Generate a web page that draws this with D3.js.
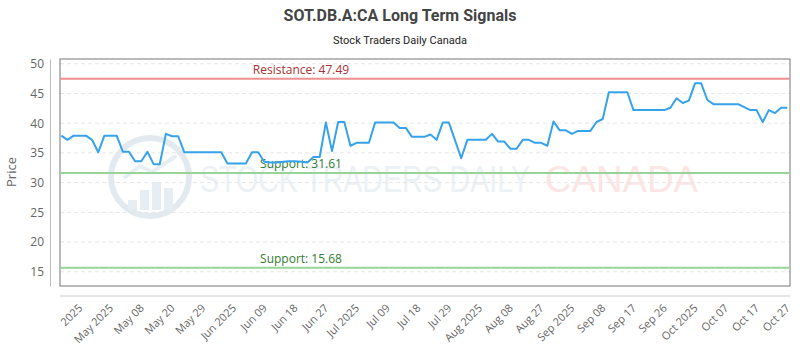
<!DOCTYPE html>
<html lang="en">
<head>
<meta charset="UTF-8">
<title>SOT.DB.A:CA Long Term Signals</title>
<script src="https://cdn.jsdelivr.net/npm/d3@7"></script>
<style>
    body { margin: 0; background: #fff; font-family: "Open Sans", sans-serif; }
    .grid line { stroke: #e6e6e6; stroke-dasharray: 4 3; }
    .axis text { fill: #666; }
</style>
</head>
<body>
<div id="chart"></div>
<script>
    // closing prices, one per trading day (Apr 2025 - Oct 2025)
    const prices = [
        37.9, 37.2, 37.9, 37.9, 37.9, 37.2, 35.1, 37.9, 37.9, 37.9,
        35.2, 35.2, 33.6, 33.6, 35.2, 33.1, 33.1, 38.2, 37.8, 37.8,
        35.1, 35.1, 35.1, 35.1, 35.1, 35.1, 35.1, 33.2, 33.2, 33.2,
        33.2, 35.1, 35.1, 33.5, 33.4, 33.4, 33.5, 33.6, 33.6, 33.5,
        33.4, 34.3, 34.3, 40.1, 35.3, 40.2, 40.2, 36.2, 36.7, 36.7,
        36.7, 40.1, 40.1, 40.1, 40.1, 39.2, 39.2, 37.7, 37.7, 37.7,
        38.1, 37.2, 40.1, 40.1, 37.1, 34.1, 37.2, 37.2, 37.2, 37.2,
        38.2, 36.9, 36.9, 35.7, 35.7, 37.2, 37.2, 36.7, 36.7, 36.2,
        40.3, 38.8, 38.8, 38.2, 38.7, 38.7, 38.7, 40.2, 40.7, 45.2,
        45.2, 45.2, 45.2, 42.2, 42.2, 42.2, 42.2, 42.2, 42.2, 42.6,
        44.2, 43.4, 43.8, 46.7, 46.7, 43.9, 43.2, 43.2, 43.2, 43.2,
        43.2, 42.7, 42.2, 42.2, 40.2, 42.2, 41.7, 42.6, 42.6
    ];

    // x-axis labels and the trading-day index they sit on
    const tickLabels = ["2025", "May 2025", "May 08", "May 20", "May 29", "Jun 2025",
        "Jun 09", "Jun 18", "Jun 27", "Jul 2025", "Jul 09", "Jul 18", "Jul 29",
        "Aug 2025", "Aug 08", "Aug 27", "Sep 2025", "Sep 08", "Sep 17", "Sep 26",
        "Oct 2025", "Oct 07", "Oct 17", "Oct 27"];
    const tickIndex = [3, 8, 13, 18, 23, 28, 33, 38, 43, 48, 53, 58, 63, 68, 73,
        78, 83, 88, 93, 98, 103, 108, 113, 118];

    const yTicks = [15, 20, 25, 30, 35, 40, 45, 50];

    const levelNames = ["Resistance", "Support", "Support"];
    const levelValues = [47.49, 31.61, 15.68];

    const width = 800, height = 350;
    const plot = { left: 60, right: 790, top: 59, bottom: 286 };

    const svg = d3.select("#chart").append("svg")
        .attr("width", width)
        .attr("height", height);

    const x = d3.scaleLinear()
        .domain([0, prices.length - 1])
        .range([61.3, 787.3]);

    const y = d3.scaleLinear()
        .domain([12.6, 50.8])
        .range([plot.bottom, plot.top]);

    // title
    svg.append("text")
        .attr("x", 400).attr("y", 21)
        .attr("text-anchor", "middle")
        .style("font-family", "Roboto, sans-serif")
        .style("font-weight", "bold")
        .style("font-size", "16px")
        .attr("fill", "#444")
        .text("SOT.DB.A:CA Long Term Signals");

    svg.append("text")
        .attr("x", 400).attr("y", 44)
        .attr("text-anchor", "middle")
        .style("font-family", "Roboto, sans-serif")
        .style("font-size", "11px")
        .attr("fill", "#222")
        .text("Stock Traders Daily Canada");

    // watermark
    const wm = svg.append("g");
    wm.append("circle")
        .attr("cx", 150).attr("cy", 177).attr("r", 39)
        .attr("fill", "none")
        .attr("stroke", "#e2eaf0")
        .attr("stroke-width", 6);
    [[128, 200, 10], [140, 190, 20], [152, 182, 28], [164, 188, 22]].forEach(b => {
        wm.append("rect")
            .attr("x", b[0]).attr("y", b[1])
            .attr("width", 9).attr("height", 210 - b[1])
            .attr("fill", "#e6eef3");
    });
    wm.append("polyline")
        .attr("points", "124,178 140,166 152,172 176,156")
        .attr("fill", "none")
        .attr("stroke", "#e6eef3")
        .attr("stroke-width", 4);
    wm.append("text")
        .attr("x", 200).attr("y", 192)
        .attr("textLength", 330)
        .attr("lengthAdjust", "spacingAndGlyphs")
        .style("font-family", "'Liberation Sans Narrow', sans-serif")
        .style("font-size", "37px")
        .attr("fill", "#ebf1f5")
        .text("STOCK TRADERS DAILY");
    wm.append("text")
        .attr("x", 545).attr("y", 192)
        .attr("textLength", 153)
        .attr("lengthAdjust", "spacingAndGlyphs")
        .style("font-family", "'Liberation Sans Narrow', sans-serif")
        .style("font-size", "37px")
        .attr("fill", "#fce5e5")
        .text("CANADA");

    // gridlines
    svg.append("g")
        .attr("class", "grid")
        .selectAll("line")
        .data(yTicks)
        .join("line")
        .attr("x1", plot.left).attr("x2", plot.right)
        .attr("y1", d => y(d)).attr("y2", d => y(d));

    // plot frame
    svg.append("rect")
        .attr("x", plot.left).attr("y", plot.top)
        .attr("width", plot.right - plot.left)
        .attr("height", plot.bottom - plot.top)
        .attr("fill", "none")
        .attr("stroke", "#777");

    // y axis
    const yAxis = svg.append("g")
        .attr("class", "axis")
        .attr("transform", "translate(50,0)")
        .call(d3.axisLeft(y).tickValues(yTicks).tickSize(0).tickPadding(6));
    yAxis.select(".domain").attr("stroke", "#bbb");
    yAxis.selectAll("text").style("font-size", "12px").style("font-family", "'Open Sans', sans-serif");

    svg.append("text")
        .attr("transform", "translate(16,172) rotate(-90)")
        .attr("text-anchor", "middle")
        .style("font-size", "13px")
        .attr("fill", "#666")
        .text("Price");

    // x axis
    const xAxis = svg.append("g")
        .attr("class", "axis")
        .attr("transform", "translate(0,296)")
        .call(d3.axisBottom(x)
            .tickValues(tickIndex)
            .tickFormat((d, i) => tickLabels[i])
            .tickSize(0));
    xAxis.select(".domain").attr("stroke", "#ccc").attr("d", `M${plot.left},0H${plot.right}`);
    xAxis.selectAll("text")
        .style("font-size", "11px")
        .style("font-family", "'Open Sans', sans-serif")
        .attr("text-anchor", "end")
        .attr("dy", "0.35em")
        .attr("transform", "translate(-2,8) rotate(-45)");

    // support / resistance levels
    const levels = levelValues.map((v, i) => ({ name: levelNames[i], value: v }));
    const lvl = svg.append("g").selectAll("g")
        .data(levels)
        .join("g");
    lvl.append("line")
        .attr("x1", plot.left).attr("x2", plot.right)
        .attr("y1", d => y(d.value)).attr("y2", d => y(d.value))
        .attr("stroke", d => d.name === "Resistance" ? "#ef9090" : "#98d498")
        .attr("stroke-width", 2);
    lvl.append("text")
        .attr("x", 301)
        .attr("y", d => y(d.value) - 5)
        .attr("text-anchor", "middle")
        .style("font-size", "12px")
        .style("font-family", "'Open Sans', sans-serif")
        .attr("fill", d => d.name === "Resistance" ? "#a83232" : "#2f7d32")
        .text(d => `${d.name}: ${d.value.toFixed(2)}`);

    // price line
    svg.append("path")
        .datum(prices)
        .attr("fill", "none")
        .attr("stroke", "#36a2eb")
        .attr("stroke-width", 2)
        .attr("stroke-linejoin", "round")
        .attr("d", d3.line()
            .x((d, i) => x(i))
            .y(d => y(d)));
</script>
</body>
</html>
